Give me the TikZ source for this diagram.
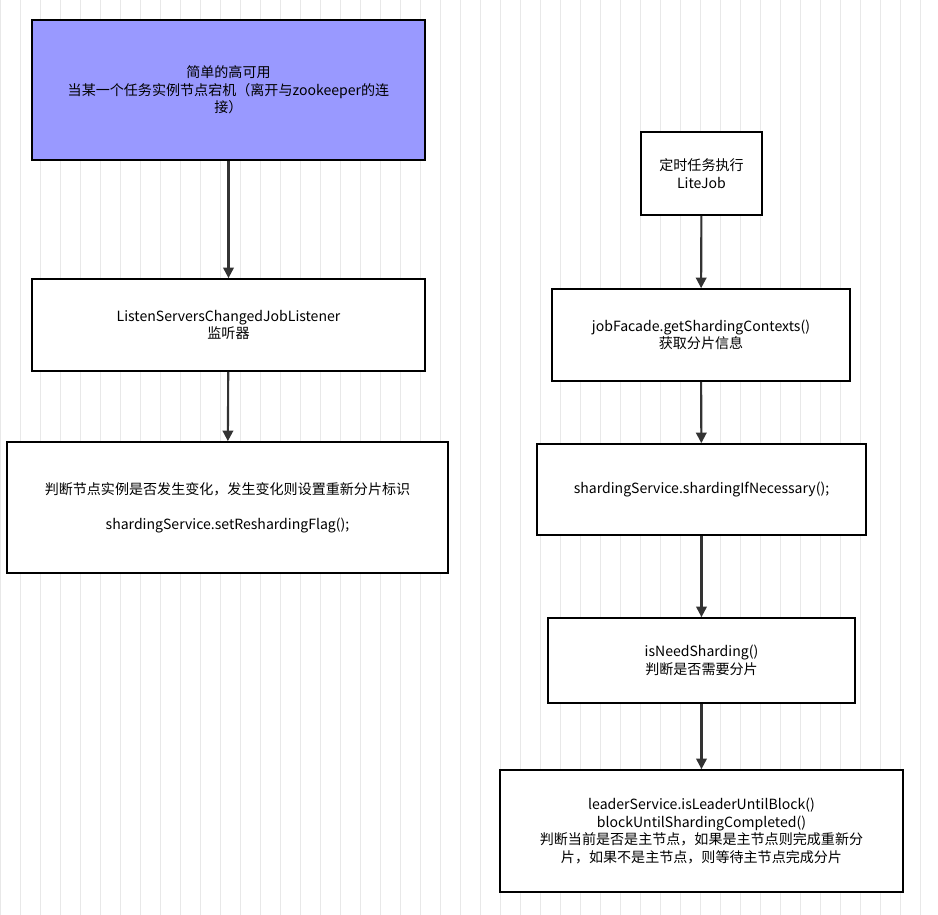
\documentclass[tikz,border=0pt]{standalone}
\usepackage{fontspec}
\setmainfont{Noto Sans CJK SC}
\usetikzlibrary{positioning}
\usetikzlibrary{arrows.meta}
\definecolor{boxblue}{HTML}{9999FF}
\definecolor{lineg}{HTML}{333333}
\tikzset{stepbox/.style={draw=black,line width=1pt,rectangle,align=center,fill=white,font=\fontsize{8}{10}\selectfont,inner sep=0pt}}
\tikzset{flow/.style={-{Triangle[length=6pt,width=6pt]},draw=lineg,line width=1.2pt}}
\begin{document}
\begin{tikzpicture}[x=0.02cm,y=-0.02cm]
	\useasboundingbox (0,0) rectangle (938,915);
	\fill[white] (0,0) rectangle (938,915);
	\draw[gray!18,line width=0.3pt] (0,0) grid[step=20] (938,915);
	\node[stepbox,fill=boxblue,minimum width=393*0.02cm,minimum height=140*0.02cm] (ha) at (228.5,90) {简单的高可用\\当某一个任务实例节点宕机（离开与zookeeper的连\\接）};
	\node[stepbox,minimum width=393*0.02cm,minimum height=92*0.02cm] (listener) at (228.5,325) {ListenServersChangedJobListener\\监听器};
	\node[stepbox,minimum width=441*0.02cm,minimum height=131*0.02cm] (flag) at (227.5,507.5) {判断节点实例是否发生变化，发生变化则设置重新分片标识\\[10pt]shardingService.setReshardingFlag();};
	\node[stepbox,minimum width=121*0.02cm,minimum height=83*0.02cm] (litejob) at (701.5,173.5) {定时任务执行\\LiteJob};
	\node[stepbox,minimum width=298*0.02cm,minimum height=92*0.02cm] (contexts) at (701,335) {jobFacade.getShardingContexts()\\获取分片信息};
	\node[stepbox,minimum width=329*0.02cm,minimum height=91*0.02cm] (necessary) at (701.5,489.5) {shardingService.shardingIfNecessary();};
	\node[stepbox,minimum width=307*0.02cm,minimum height=85*0.02cm] (need) at (701.5,660.5) {isNeedSharding()\\判断是否需要分片};
	\node[stepbox,minimum width=403*0.02cm,minimum height=122*0.02cm] (leader) at (701.5,831) {leaderService.isLeaderUntilBlock()\\blockUntilShardingCompleted()\\判断当前是否是主节点，如果是主节点则完成重新分\\片，如果不是主节点，则等待主节点完成分片};
	\draw[flow] (ha) -- (listener);
	\draw[flow] (listener) -- (flag);
	\draw[flow] (litejob) -- (contexts);
	\draw[flow] (contexts) -- (necessary);
	\draw[flow] (necessary) -- (need);
	\draw[flow] (need) -- (leader);
\end{tikzpicture}
\end{document}
